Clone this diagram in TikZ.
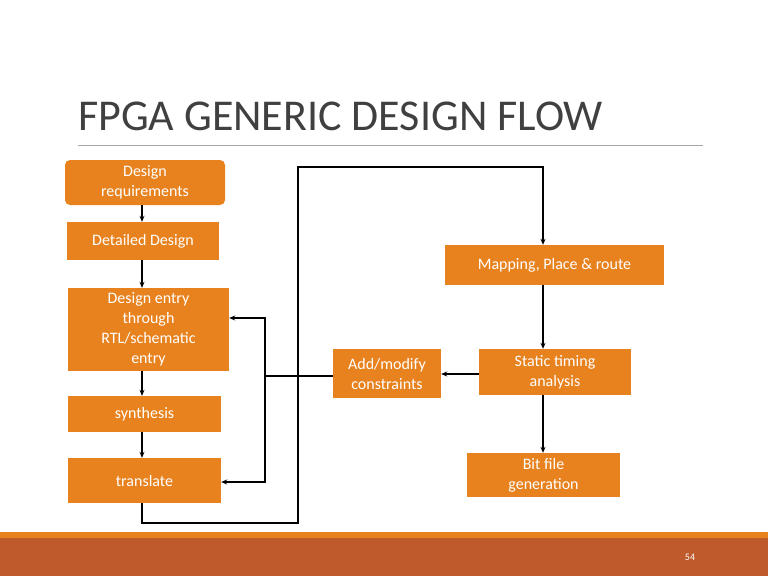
\documentclass[tikz,border=0pt]{standalone}
\usepackage{fontspec}
\setmainfont{Carlito}
\usetikzlibrary{arrows.meta}
\definecolor{org}{HTML}{E8821E}
\definecolor{rust}{HTML}{BE5A2C}
\begin{document}
\begin{tikzpicture}[x=1pt,y=-1pt,
  box/.style={fill=org,draw=none,text=white,font=\fontsize{16}{20}\selectfont,align=center,inner sep=0pt},
  ar/.style={draw=black,line width=1.6pt,-{Stealth[length=6pt,width=5pt]}},
  ln/.style={draw=black,line width=1.6pt}]
\useasboundingbox (0,0) rectangle (768,576);
\fill[white] (0,0) rectangle (768,576);
\node[anchor=base west,font=\fontsize{44}{50}\selectfont,text=black!75,inner sep=0pt] (title) at (78,130) {FPGA GENERIC DESIGN FLOW};
\draw[black!35,line width=0.8pt] (78,145) -- (703,145);
\fill[org] (0,532) rectangle (768,538);
\fill[rust] (0,538) rectangle (768,576);
\node[text=white,font=\fontsize{10}{12}\selectfont] (pg) at (690,557) {54};
\node[box,rounded corners=5pt,minimum width=160pt,minimum height=45pt] (req) at (145,182.5) {Design\\requirements};
\node[box,minimum width=152pt,minimum height=38pt] (det) at (143,241) {Detailed Design};
\node[box,minimum width=161pt,minimum height=83pt] (ent) at (148.5,329.5) {Design entry\\through\\RTL/schematic\\entry};
\node[box,minimum width=153pt,minimum height=36pt] (syn) at (144.5,414) {synthesis};
\node[box,minimum width=153pt,minimum height=45pt] (tra) at (144.5,480.5) {translate};
\node[box,minimum width=219pt,minimum height=40pt] (map) at (554.5,265) {Mapping, Place \& route};
\node[box,minimum width=152pt,minimum height=46pt] (sta) at (555,372) {Static timing\\analysis};
\node[box,minimum width=108pt,minimum height=49pt] (add) at (387,373.5) {Add/modify\\constraints};
\node[box,minimum width=153pt,minimum height=44pt] (bit) at (543.5,475) {Bit file\\generation};
\draw[ar] (req.south -| 142,0) -- (det.north -| 142,0);
\draw[ar] (det.south -| 142,0) -- (ent.north -| 142,0);
\draw[ar] (ent.south -| 142,0) -- (syn.north -| 142,0);
\draw[ar] (syn.south -| 142,0) -- (tra.north -| 142,0);
\coordinate (c1) at (142,523);
\draw[ar] (tra.south -| 142,0) -- (c1) -- (298,523) -- (298,167) -- (543,167) -- (map.north -| 543,0);
\draw[ar] (map.south -| 543,0) -- (sta.north -| 543,0);
\draw[ar] (sta.south -| 543,0) -- (bit.north -| 543,0);
\draw[ar] (sta.west |- 0,374) -- (add.east |- 0,374);
\draw[ln] (add.west |- 0,376) -- (265,376);
\draw[ar] (265,376) -- (265,318) -- (ent.east |- 0,318);
\draw[ar] (265,376) -- (265,482) -- (tra.east |- 0,482);
\end{tikzpicture}
\end{document}
